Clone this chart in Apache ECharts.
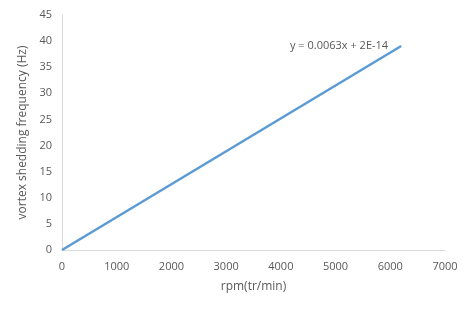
<!DOCTYPE html>
<html><head><meta charset="utf-8">
<script src="https://cdn.jsdelivr.net/npm/echarts@6/dist/echarts.min.js"></script>
<style>html,body{margin:0;padding:0;background:#fff}#c{width:474px;height:312px}</style>
</head><body><div id="c"></div>
<script>
const rpm = [0, 6200];
const freq = [0, 39.06];
const xTicks = [0, 1000, 2000, 3000, 4000, 5000, 6000, 7000];
const yTicks = [0, 5, 10, 15, 20, 25, 30, 35, 40, 45];
const equation = 'y = 0.0063x + 2E-14';

const chart = echarts.init(document.getElementById('c'));
const font = 'Open Sans';
chart.setOption({
  animation: false,
  grid: {left: 62, right: 29, top: 15, bottom: 62},
  xAxis: {
    type: 'value', min: xTicks[0], max: xTicks[xTicks.length-1], interval: 1000,
    name: 'rpm(tr/min)', nameLocation: 'middle', nameGap: 31,
    nameTextStyle: {color: '#595959', fontSize: 12, fontFamily: font},
    axisLine: {show: true, lineStyle: {color: '#d9d9d9', width: 1}},
    axisTick: {show: false},
    splitLine: {show: false},
    axisLabel: {color: '#595959', fontSize: 11, fontFamily: font, margin: 11, formatter: v => String(v)}
  },
  yAxis: {
    type: 'value', min: yTicks[0], max: yTicks[yTicks.length-1], interval: 5,
    name: 'vortex shedding frequency (Hz)', nameLocation: 'middle', nameGap: 29,
    nameTextStyle: {color: '#595959', fontSize: 12, fontFamily: font},
    axisLine: {show: true, lineStyle: {color: '#d9d9d9', width: 1}},
    axisTick: {show: false},
    splitLine: {show: false},
    axisLabel: {color: '#595959', fontSize: 11, fontFamily: font, margin: 10}
  },
  series: [{
    type: 'line', data: rpm.map((x, i) => [x, freq[i]]),
    showSymbol: false, symbol: 'none',
    lineStyle: {color: '#5b9bd5', width: 2.5}
  }],
  graphic: [{
    type: 'text', left: 290, top: 40,
    style: {text: equation, fill: '#595959', font: '11px "Open Sans"'}
  }]
});
</script></body></html>
